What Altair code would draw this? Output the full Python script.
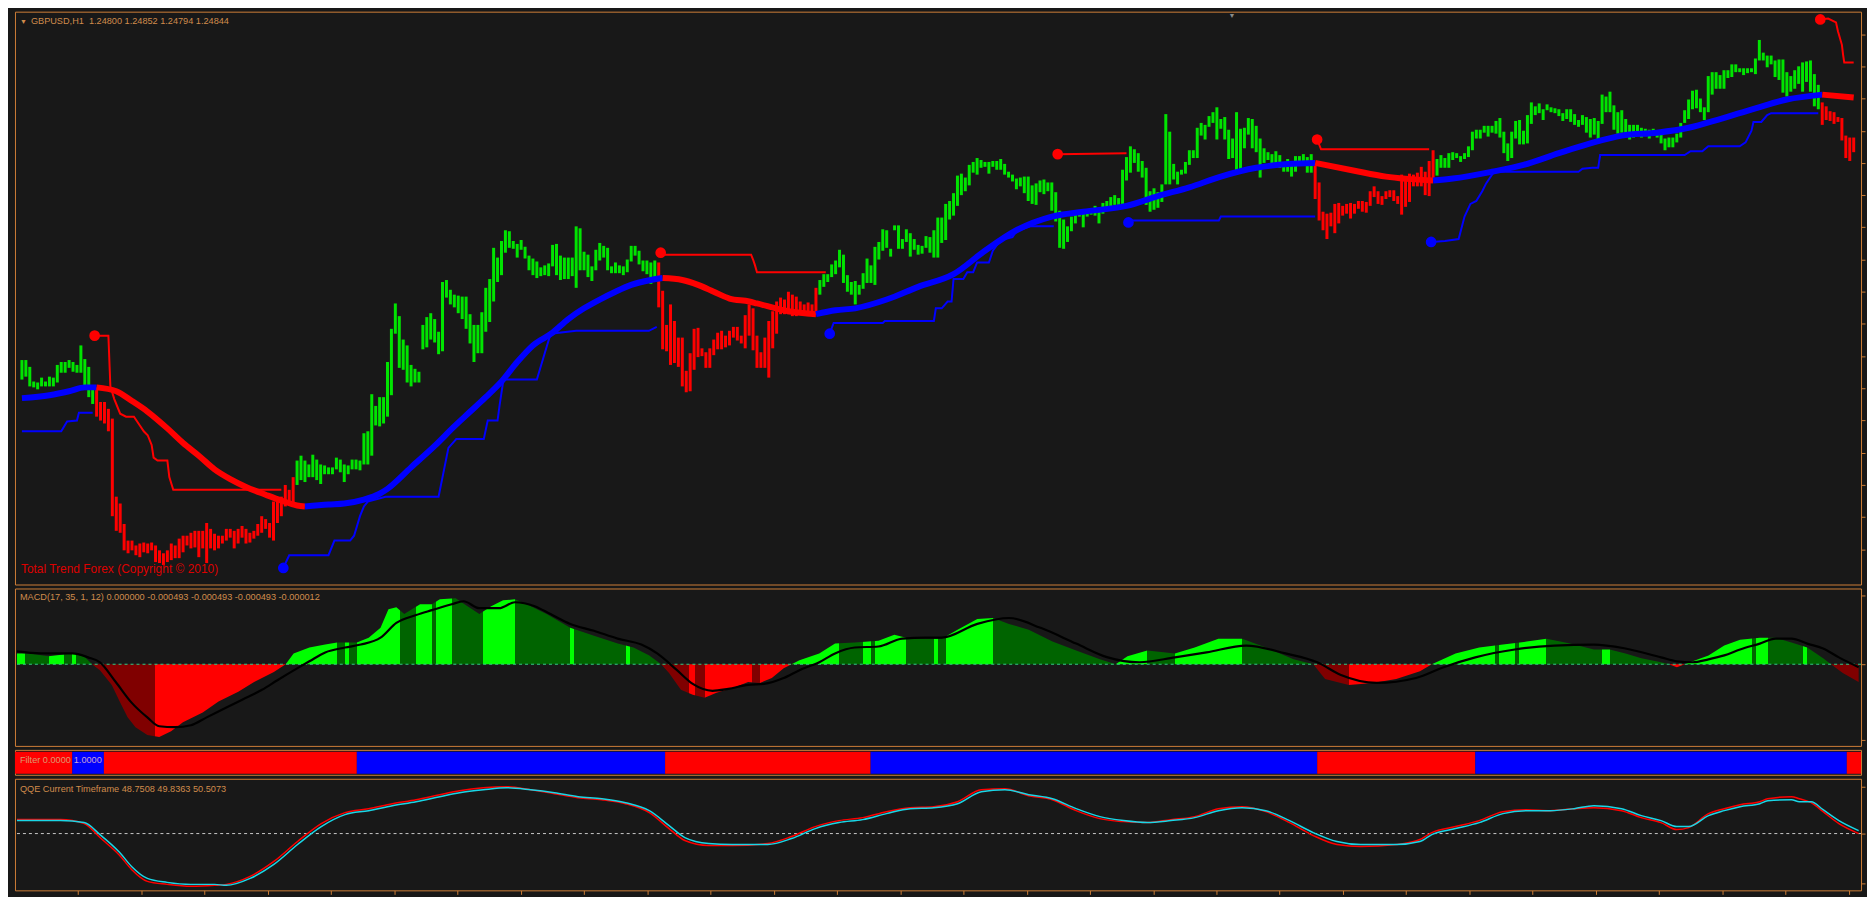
import altair as alt
import numpy as np
import pandas as pd

# ---------------- MAIN PANEL DATA (pips above 1.2000) ----------------
bar_hi = [240,240,233,218,217,222,218,223,222,235,
          238,238,240,238,235,255,241,233,212,212,
          197,197,190,180,100,93,72,55,55,50,
          52,53,52,53,50,45,42,45,52,50,
          57,60,60,63,65,65,65,73,67,62,
          60,60,67,67,65,67,70,67,63,65,
          72,80,77,73,95,97,100,112,107,120,
          137,142,137,133,143,138,133,132,130,130,
          140,138,133,132,138,138,137,165,167,205,
          193,202,202,238,272,298,285,261,255,235,
          231,228,276,284,288,282,269,320,322,312,
          307,306,305,305,287,276,276,289,314,323,
          355,345,362,373,372,362,359,363,356,347,
          344,341,335,337,339,358,359,347,345,345,
          345,377,375,351,348,336,353,360,357,355,
          336,340,337,336,343,357,357,352,342,342,
          340,342,340,311,276,297,280,263,263,229,
          247,272,273,252,248,252,261,268,270,265,
          270,274,274,265,286,297,293,265,248,263,
          280,290,300,304,302,310,307,305,300,297,
          299,297,314,322,328,328,338,342,353,348,
          327,320,321,317,329,344,337,356,361,374,
          373,354,378,378,364,374,370,364,358,357,
          367,366,373,386,386,400,403,411,429,431,
          427,440,443,447,445,443,443,444,444,446,
          441,433,430,426,427,428,428,419,421,424,
          425,422,422,412,393,384,377,387,389,393,
          392,393,393,398,395,401,403,407,409,406,
          435,448,459,456,452,444,437,413,416,412,
          420,492,474,441,433,435,443,455,455,478,
          483,481,490,494,499,487,489,476,467,494,
          477,478,488,487,480,467,457,453,451,454,
          450,443,446,444,449,449,451,448,451,439,
          422,392,390,391,400,401,398,400,401,400,
          403,403,402,413,418,413,408,413,414,414,
          408,430,425,431,430,432,438,433,444,455,
          446,450,447,452,453,452,449,452,459,474,
          476,476,480,480,480,485,488,474,462,474,
          485,486,475,491,504,500,503,497,502,499,
          498,497,493,497,497,492,486,491,489,487,
          488,485,512,510,515,501,494,496,487,481,
          481,481,478,477,476,477,474,472,467,468,
          468,472,483,496,507,516,517,508,499,531,
          535,535,532,537,537,543,543,539,539,539,
          539,549,568,555,552,552,547,548,548,535,
          531,537,541,545,546,547,533,522,504,500,
          495,494,489,488,470,468,468]
bar_lo = [220,223,213,212,210,213,213,213,213,217,
          227,227,232,228,227,227,213,202,195,182,
          178,175,167,80,65,63,45,42,45,40,
          38,43,42,45,33,32,30,33,35,37,
          37,43,50,47,48,38,47,32,47,45,
          47,52,55,58,47,52,58,52,53,57,
          60,63,67,58,55,73,80,90,93,92,
          112,117,115,120,120,117,113,123,123,123,
          128,125,115,123,128,128,127,133,133,142,
          173,172,175,182,204,267,232,230,217,213,
          217,217,251,253,261,258,246,249,304,297,
          294,288,282,272,257,238,247,247,269,279,
          300,320,327,350,355,354,345,353,344,332,
          327,324,326,327,326,336,327,322,323,323,
          326,314,332,332,325,321,332,342,345,332,
          329,329,329,327,330,341,347,338,331,328,
          318,325,294,251,249,235,237,233,213,207,
          208,230,243,244,232,232,245,251,251,253,
          255,263,260,257,252,265,250,232,232,232,
          222,252,267,287,287,287,285,285,287,287,
          285,287,287,307,315,320,325,328,335,319,
          310,307,297,307,313,319,319,317,343,352,
          355,346,373,354,354,361,346,353,348,349,
          355,350,345,345,360,363,384,388,398,409,
          413,419,432,430,437,438,431,438,435,435,
          430,427,423,415,418,411,403,400,399,412,
          410,413,393,382,355,354,361,372,380,387,
          376,387,389,388,380,390,395,397,399,399,
          400,424,432,442,433,427,399,392,394,396,
          402,420,420,425,420,430,431,440,447,447,
          470,466,479,483,466,477,466,446,447,434,
          434,457,471,457,453,427,442,445,440,442,
          437,433,433,428,433,443,443,432,432,405,
          383,373,364,377,370,380,388,390,385,390,
          395,392,391,398,407,400,399,405,407,403,
          400,389,397,402,418,418,418,409,408,425,
          429,437,437,437,445,447,443,446,448,455,
          467,467,473,469,473,472,468,452,444,447,
          467,461,461,462,482,491,493,486,496,494,
          493,490,485,487,484,481,479,481,473,468,
          471,466,482,494,494,476,472,473,472,466,
          468,470,468,471,467,470,468,462,455,458,
          458,463,468,483,487,497,498,494,486,494,
          512,518,518,518,529,530,535,535,532,534,
          535,533,547,547,540,543,530,527,514,510,
          515,518,523,515,525,515,500,497,481,486,
          485,482,484,465,447,444,453]
trend_start = [0, 19, 70, 162, 203, 329, 360, 458]
trend_dir = ["up", "down", "up", "down", "up", "down", "up", "down"]

ma_i = [0,7,12,16,19,24,28,32,37,41,45,49,53,57,62,66,70,72,78,82,87,91,93,99,105,
        110,114,118,122,126,130,135,139,143,147,151,155,160,163,168,172,176,180,185,187,
        195,202,207,212,220,228,237,245,253,262,270,281,289,297,305,314,322,329,339,347,
        359,364,374,382,391,399,407,416,424,432,441,449,458,466]
ma_p = [201,204,208,212,212,208,198,187,170,155,142,128,118,110,102,96,91,90,92,93,97,103,108,130,152,
        172,187,202,218,238,255,268,282,293,302,310,317,322,324,322,317,310,303,300,298,
        290,287,291,293,302,315,328,352,373,387,392,398,408,417,428,437,441,442,434,428,
        424,426,433,440,452,462,470,473,478,487,498,507,512,509]
ma_switch = [19, 72, 163, 202, 329, 359, 458]

red_stop_1 = [(18.5,265),(22,265),(22.5,213),(23.5,200),(25,185),(26.5,182),(28.5,182),(30,173),(31,167),
              (32,163),(33,153),(33.5,140),(34.5,137),(37,137),(37.5,120),(38.5,107),(66,107)]
red_stop_2 = [(162.5,350),(163.5,348),(185.5,348),(186,343),(186.5,337),(187,330),(204.5,330)]
red_stop_3 = [(263.5,451),(281,452)]
red_stop_4 = [(329.5,466),(330.5,456),(358,456)]
red_stop_5 = [(457.5,589),(459.5,590),(461.5,586),(462,577),(463,563),(463.3,553),(463.6,545),(466,545)]
blue_stop_1 = [(0,167),(10,167),(11.5,177),(14,178),(14.5,186),(18,186)]
blue_stop_2 = [(66.5,27),(68,40),(78,40),(79.5,55),(83.5,55),(84.5,60),(86,80),(87,90),(88,95),(92.5,100),
               (106,100),(108.5,150),(110.5,159),(117.5,159),(118.5,178),(121,178),(121.5,193),(122.5,220),
               (131,220),(133,247),(134.5,267),(141,270),(159.5,270),(161.5,274)]
blue_stop_3 = [(205.5,267),(206.5,278),(219,278),(219.5,280),(232,280),(232.5,293),(234,293),(235.5,300),
               (236.5,300),(237,323),(239.5,323),(240.5,330),(242,330),(243,340),(246,340),(247,352),
               (249,363),(252,366),(253,372),(256.5,377),(262.5,377)]
blue_stop_4 = [(281.5,381),(282.5,383),(304.5,383),(305,387),(329,387)]
blue_stop_5 = [(358.5,361),(362,362),(365.5,364),(367,387),(368.5,400),(370,403),(371.5,413),(372.5,421),
               (374.5,433),(396,433),(397,436),(399.5,437),(401,437),(401.5,450),(423,450),(424.5,454),
               (427.5,454),(429,459),(437,459),(438.5,463),(440,475),(440.5,484),(442.5,484),(444,491),
               (445,493),(457,493)]
red_dots = [(18.5,265),(162.5,350),(263.5,451),(329.5,466),(457.5,589)]
blue_dots = [(66.5,27),(205.5,267),(281.5,381),(358.5,361)]
main_ticks_pips = [574,541,508,475,442,409,376,343,310,277,244,211,178,145,112,79,46]

# ---------------- MACD DATA (units of 1e-5) ----------------
macd_i = [0,3,8,14,17,19,21,24,26,28,30,33,36,39,42,47,51,56,60,65,68,70,74,78,81,86,89,92,94,96,
          98,102,105,107,111,114,117,120,123,126,129,134,140,146,152,156,160,163,165,168,
          171,174,177,182,185,188,191,194,196,198,203,207,212,218,222,225,230,234,238,243,
          247,251,256,262,268,274,278,281,286,293,298,304,310,316,323,328,331,337,343,349,
          355,358,364,370,376,382,387,393,399,403,407,411,416,418,420,422,424,428,432,436,
          441,445,449,453,457,459,462,466]
macd_v = [22,22,16,22,16,0,-12,-42,-76,-108,-128,-144,-148,-136,-118,-98,-76,-56,-36,-16,
          0,22,34,40,44,44,54,74,112,116,102,122,122,132,134,118,102,118,130,132,
          122,102,74,58,42,34,18,0,-18,-52,-62,-68,-58,-46,-36,-38,-28,-8,0,8,
          22,42,44,48,60,54,52,52,70,92,94,82,70,46,28,10,0,16,28,22,
          34,52,52,34,10,0,-30,-42,-38,-30,-14,0,22,34,40,46,52,42,30,30,
          22,12,4,0,-6,0,6,18,38,50,54,54,44,34,12,0,-18,-36]
sig_i = [0,6,14,18,21,25,29,33,36,40,44,48,53,57,62,66,71,74,78,83,87,92,96,101,105,110,113,117,122,126,
         131,135,140,146,152,158,162,167,171,176,180,185,189,194,198,203,207,212,218,224,
         230,234,243,251,259,268,276,284,293,301,311,321,329,335,344,354,361,369,379,389,
         399,407,416,420,424,428,432,436,441,445,449,453,457,461,466]
sig_v = [26,22,22,14,4,-36,-78,-108,-126,-128,-124,-108,-88,-72,-52,-32,-8,6,24,34,
         40,54,84,100,110,122,128,114,114,126,118,102,82,68,52,40,22,-12,-40,-54,
         -50,-42,-40,-28,-12,4,22,34,36,52,54,54,82,94,74,42,14,4,14,24,
         38,22,4,-22,-38,-28,-6,14,30,38,40,32,14,6,4,10,18,30,42,52,
         52,42,32,14,-6]
macd_pos_runs = [(0,2,"rise"),(2,8,"fall"),(8,12,"rise"),(12,14,"fall"),(14,15,"rise"),(15,19,"fall"),
    (68,81,"rise"),(81,83,"fall"),(83,84,"rise"),(84,86,"fall"),(86,97,"rise"),(97,101,"fall"),
    (101,105,"rise"),(105,106,"fall"),(106,110,"rise"),(110,118,"fall"),(118,126,"rise"),(126,140,"fall"),
    (140,141,"rise"),(141,154,"fall"),(154,155,"rise"),(155,163,"fall"),
    (196,208,"rise"),(208,214,"fall"),(214,216,"rise"),(216,217,"fall"),(217,225,"rise"),(225,232,"fall"),
    (232,233,"rise"),(233,235,"fall"),(235,247,"rise"),(247,278,"fall"),(278,286,"rise"),(286,293,"fall"),
    (293,310,"rise"),(310,328,"fall"),
    (358,374,"rise"),(374,375,"fall"),(375,379,"rise"),(379,380,"fall"),(380,387,"rise"),(387,401,"fall"),
    (401,403,"rise"),(403,418,"fall"),(422,439,"rise"),(439,440,"fall"),(440,443,"rise"),(443,452,"fall"),
    (452,453,"rise"),(453,459,"fall")]
macd_neg_runs = [(19,35,"fall"),(35,68,"rise"),(163,170,"fall"),(170,171.5,"rise"),(171.5,174,"fall"),
    (174,186,"rise"),(186,188,"fall"),(188,196,"rise"),(328,337,"fall"),(337,358,"rise"),
    (418,422,"rise"),(459,466,"fall")]

# ---------------- FILTER DATA ----------------
filt_start = [-0.5, 14, 22, 86, 164, 216, 329, 369, 463]
filt_end = [14, 22, 86, 164, 216, 329, 369, 463, 466.6]
filt_state = [0, 1, 0, 1, 0, 1, 0, 1, 0]

# ---------------- QQE DATA ----------------
qqe_i = [0,11,17,21,26,29,33,38,44,50,53,59,65,71,77,83,89,95,101,107,112,118,124,130,136,142,148,154,160,165,
         169,175,181,190,196,202,208,214,220,226,232,238,244,250,256,262,268,274,280,286,
         292,298,304,310,316,322,328,334,340,349,355,358,364,370,376,382,388,394,399,406,
         411,416,420,423,428,432,436,441,443,449,451,454,457,461,466]
qqe_slow = [56.5,56.5,55.5,49.5,40.5,33.5,27.5,25.5,24.5,24.5,24,27.5,34.5,44.5,53.5,59.5,61.5,64,66,68.5,
            70.5,72,73,72,70.5,68.5,67.5,65.5,61.5,54,48,45,44.5,44.5,47.5,52.5,55.5,57,60,62.5,
            63,65,71,72,69.5,67.5,62.5,58.5,56.5,55.5,56.5,58,61.5,63,61.5,56.5,50.5,46,44.5,44.5,
            46,49.5,52.5,55.5,60,61.5,61.5,62.5,64,62.5,59,56.5,53.5,53.5,59,61.5,63.5,65,66.5,67,
            66,66,62,56.5,51.5]
qqe_fast = [57,57,55,48,39,32,26,24.5,23.5,24,24.5,28.5,36,46,55,60.5,62.5,65,67,69.5,
            71.5,73,73.5,72,70,68,67,65,60.5,52.5,46.5,44,44,45,48.5,53.5,56.5,58,61,63,
            63.5,66,72,72.5,69,67,61.5,57.5,56,55.5,57,58.5,62.5,63.5,61,55.5,49,44.5,43.5,44.5,
            47,50.5,53.5,56.5,61,62,61.5,62.5,63,61.5,58,55.5,52,53,60,62.5,64.5,66,67.5,68.5,
            67.5,65.5,61,55,50]

# ---------------- STYLE ----------------
W = 1853
H_MAIN, H_MACD, H_FILT, H_QQE = 575, 158, 25, 112
ORANGE = "#cd7d37"
TXT = "#d08c4c"
BG = "#181818"
GREEN = "#00e400"
RED = "#ff0000"
BLUE = "#0000ff"
FONT = "Liberation Sans"
FS = 9.2


def price(p):
    return 1.2 + np.asarray(p, dtype=float) / 10000.0


xs = alt.Scale(domain=[-0.5, 466.6], nice=False, zero=False)


def xenc(field="i", axis=None):
    return alt.X(f"{field}:Q", scale=xs, axis=axis)


def label(txt, x, y, size, color):
    return alt.Chart(pd.DataFrame({"t": [txt]})).mark_text(
        align="left", baseline="alphabetic", font=FONT, fontSize=size, color=color
    ).encode(x=alt.value(x), y=alt.value(y), text="t:N")


# ---------------- MAIN PANEL ----------------
price_scale = alt.Scale(domain=[float(price(10)), float(price(597))], nice=False, zero=False)
main_axis = alt.Axis(orient="right", values=[float(v) for v in price(main_ticks_pips)], labels=False,
                     ticks=True, tickSize=4, tickColor=ORANGE, domain=False, grid=False, title=None)


def ymain(field):
    return alt.Y(f"{field}:Q", scale=price_scale, axis=main_axis)


bars = pd.DataFrame({"i": np.arange(len(bar_hi)), "hi": price(bar_hi), "lo": price(bar_lo)})
run_idx = np.searchsorted(trend_start, bars["i"].values, side="right") - 1
bars["col"] = [GREEN if trend_dir[k] == "up" else RED for k in run_idx]
layer_bars = alt.Chart(bars).mark_bar(size=3).encode(
    x=xenc(), y=ymain("lo"), y2="hi:Q", color=alt.Color("col:N", scale=None))

stop_rows = []
for name, seg, col in [("r1", red_stop_1, RED), ("r2", red_stop_2, RED), ("r3", red_stop_3, RED),
                       ("r4", red_stop_4, RED), ("r5", red_stop_5, RED), ("b1", blue_stop_1, BLUE),
                       ("b2", blue_stop_2, BLUE), ("b3", blue_stop_3, BLUE), ("b4", blue_stop_4, BLUE),
                       ("b5", blue_stop_5, BLUE)]:
    for k, (i, p) in enumerate(seg):
        stop_rows.append({"i": i, "p": float(price(p)), "seg": name, "col": col, "o": k})
stops = pd.DataFrame(stop_rows)
layer_stops = alt.Chart(stops).mark_line(strokeWidth=2, interpolate="linear").encode(
    x=xenc(), y=ymain("p"), detail="seg:N", order="o:Q", color=alt.Color("col:N", scale=None))

ma_rows = []
bounds = [0] + ma_switch + [466]
for k in range(len(bounds) - 1):
    lo, hi = bounds[k], bounds[k + 1]
    col = BLUE if k % 2 == 0 else RED
    for i, p in zip(ma_i, ma_p):
        if lo <= i <= hi:
            ma_rows.append({"i": i, "p": float(price(p)), "seg": k, "col": col})
ma = pd.DataFrame(ma_rows)
layer_ma = alt.Chart(ma).mark_line(strokeWidth=6, interpolate="monotone", strokeCap="butt").encode(
    x=xenc(), y=ymain("p"), detail="seg:N", color=alt.Color("col:N", scale=None))

dots = pd.DataFrame([{"i": i, "p": float(price(p)), "col": RED} for i, p in red_dots] +
                    [{"i": i, "p": float(price(p)), "col": BLUE} for i, p in blue_dots])
layer_dots = alt.Chart(dots).mark_circle(size=115, opacity=1).encode(
    x=xenc(), y=ymain("p"), color=alt.Color("col:N", scale=None))

main = alt.layer(
    layer_bars, layer_stops, layer_ma, layer_dots,
    label("\u25bc", 5, 12, 7, TXT),
    label("GBPUSD,H1\u00a0 1.24800 1.24852 1.24794 1.24844", 16, 12, FS, TXT),
    label("\u25bc", 1218, 6, 7, "#8a8a8a"),
    label("Total Trend Forex (Copyright \u00a9 2010)", 6, 563, 12, "#dd0000"),
).properties(width=W, height=H_MAIN)

# ---------------- MACD PANEL ----------------
macd_scale = alt.Scale(domain=[-166e-5, 154e-5], nice=False, zero=False)
macd_axis = alt.Axis(orient="right", values=[140e-5, 0.0, -154e-5], labels=False, tickSize=4,
                     tickColor=ORANGE, domain=False, grid=False, title=None)
mv = np.array(macd_v, dtype=float) * 1e-5
macd = pd.DataFrame({"i": macd_i, "pos": np.maximum(mv, 0), "neg": np.minimum(mv, 0)})
sig = pd.DataFrame({"i": sig_i, "s": np.array(sig_v, dtype=float) * 1e-5})

span = float(macd_i[-1] - macd_i[0])


def gradient(runs, colors):
    stops_ = []
    for s, e, kind in runs:
        c = colors[kind]
        stops_.append(alt.GradientStop(color=c, offset=(s - macd_i[0]) / span))
        stops_.append(alt.GradientStop(color=c, offset=(e - macd_i[0]) / span))
    return alt.Gradient(gradient="linear", stops=stops_, x1=0, x2=1, y1=0, y2=0)


pos_grad = gradient(macd_pos_runs, {"rise": "#00ff00", "fall": "#006400"})
neg_grad = gradient(macd_neg_runs, {"rise": "#ff0000", "fall": "#800000"})

layer_pos = alt.Chart(macd).mark_area(color=pos_grad, interpolate="linear").encode(
    x=xenc(), y=alt.Y("pos:Q", scale=macd_scale, axis=macd_axis), y2=alt.datum(0))
layer_neg = alt.Chart(macd).mark_area(color=neg_grad, interpolate="linear").encode(
    x=xenc(), y=alt.Y("neg:Q", scale=macd_scale, axis=macd_axis), y2=alt.datum(0))
layer_zero = alt.Chart(pd.DataFrame({"z": [0.0]})).mark_rule(
    color="#33cc88", strokeDash=[3, 3], strokeWidth=1).encode(
    y=alt.Y("z:Q", scale=macd_scale, axis=macd_axis))
layer_sig = alt.Chart(sig).mark_line(color="#000000", strokeWidth=2.2, interpolate="monotone").encode(
    x=xenc(), y=alt.Y("s:Q", scale=macd_scale, axis=macd_axis))

macd_panel = alt.layer(
    layer_pos, layer_neg, layer_zero, layer_sig,
    label("MACD(17, 35, 1, 12) 0.000000 -0.000493 -0.000493 -0.000493 -0.000012", 5, 12, FS, TXT),
).properties(width=W, height=H_MACD)

# ---------------- FILTER PANEL ----------------
filt = pd.DataFrame({"s": filt_start, "e": filt_end,
                     "col": [BLUE if st == 1 else RED for st in filt_state]})
layer_filt = alt.Chart(filt).mark_rect().encode(
    x=xenc("s"), x2="e:Q", y=alt.value(2), y2=alt.value(H_FILT - 1),
    color=alt.Color("col:N", scale=None))
filt_panel = alt.layer(
    layer_filt,
    label("Filter 0.0000", 5, 13, FS, "#dc9a70"),
    label("1.0000", 59, 13, FS, "#c9a0d0"),
).properties(width=W, height=H_FILT)

# ---------------- QQE PANEL ----------------
qqe_scale = alt.Scale(domain=[21.5, 77.5], nice=False, zero=False)
qqe_axis = alt.Axis(orient="right", values=[73.5, 50, 25], labels=False, tickSize=4,
                    tickColor=ORANGE, domain=False, grid=False, title=None)
time_axis = alt.Axis(orient="bottom", values=[15.5 + 16 * k for k in range(29)], labels=False,
                     tickSize=4, tickColor=ORANGE, domain=False, grid=False, title=None)
qqe = pd.DataFrame({"i": qqe_i, "slow": qqe_slow, "fast": qqe_fast})
layer_level = alt.Chart(pd.DataFrame({"l": [50.0]})).mark_rule(
    color="#c8c8c8", strokeDash=[3, 3], strokeWidth=1).encode(
    y=alt.Y("l:Q", scale=qqe_scale, axis=qqe_axis))
layer_fast = alt.Chart(qqe).mark_line(color="#ff0000", strokeWidth=1.5, interpolate="monotone").encode(
    x=xenc(axis=time_axis), y=alt.Y("fast:Q", scale=qqe_scale, axis=qqe_axis))
layer_slow = alt.Chart(qqe).mark_line(color="#1ad6e6", strokeWidth=1.5, interpolate="monotone").encode(
    x=xenc(axis=time_axis), y=alt.Y("slow:Q", scale=qqe_scale, axis=qqe_axis))
qqe_panel = alt.layer(
    layer_level, layer_fast, layer_slow,
    label("QQE Current Timeframe 48.7508 49.8363 50.5073", 5, 13, FS, TXT),
).properties(width=W, height=H_QQE)

chart = alt.vconcat(main, macd_panel, filt_panel, qqe_panel, spacing=2).resolve_scale(
    x="independent", y="independent"
).properties(
    background=BG, padding={"left": 1, "top": 1, "right": 0, "bottom": 0}
).configure_view(stroke=ORANGE, strokeWidth=1, fill=BG)

chart.save("out.html", embed_options={"renderer": "svg", "actions": False})
